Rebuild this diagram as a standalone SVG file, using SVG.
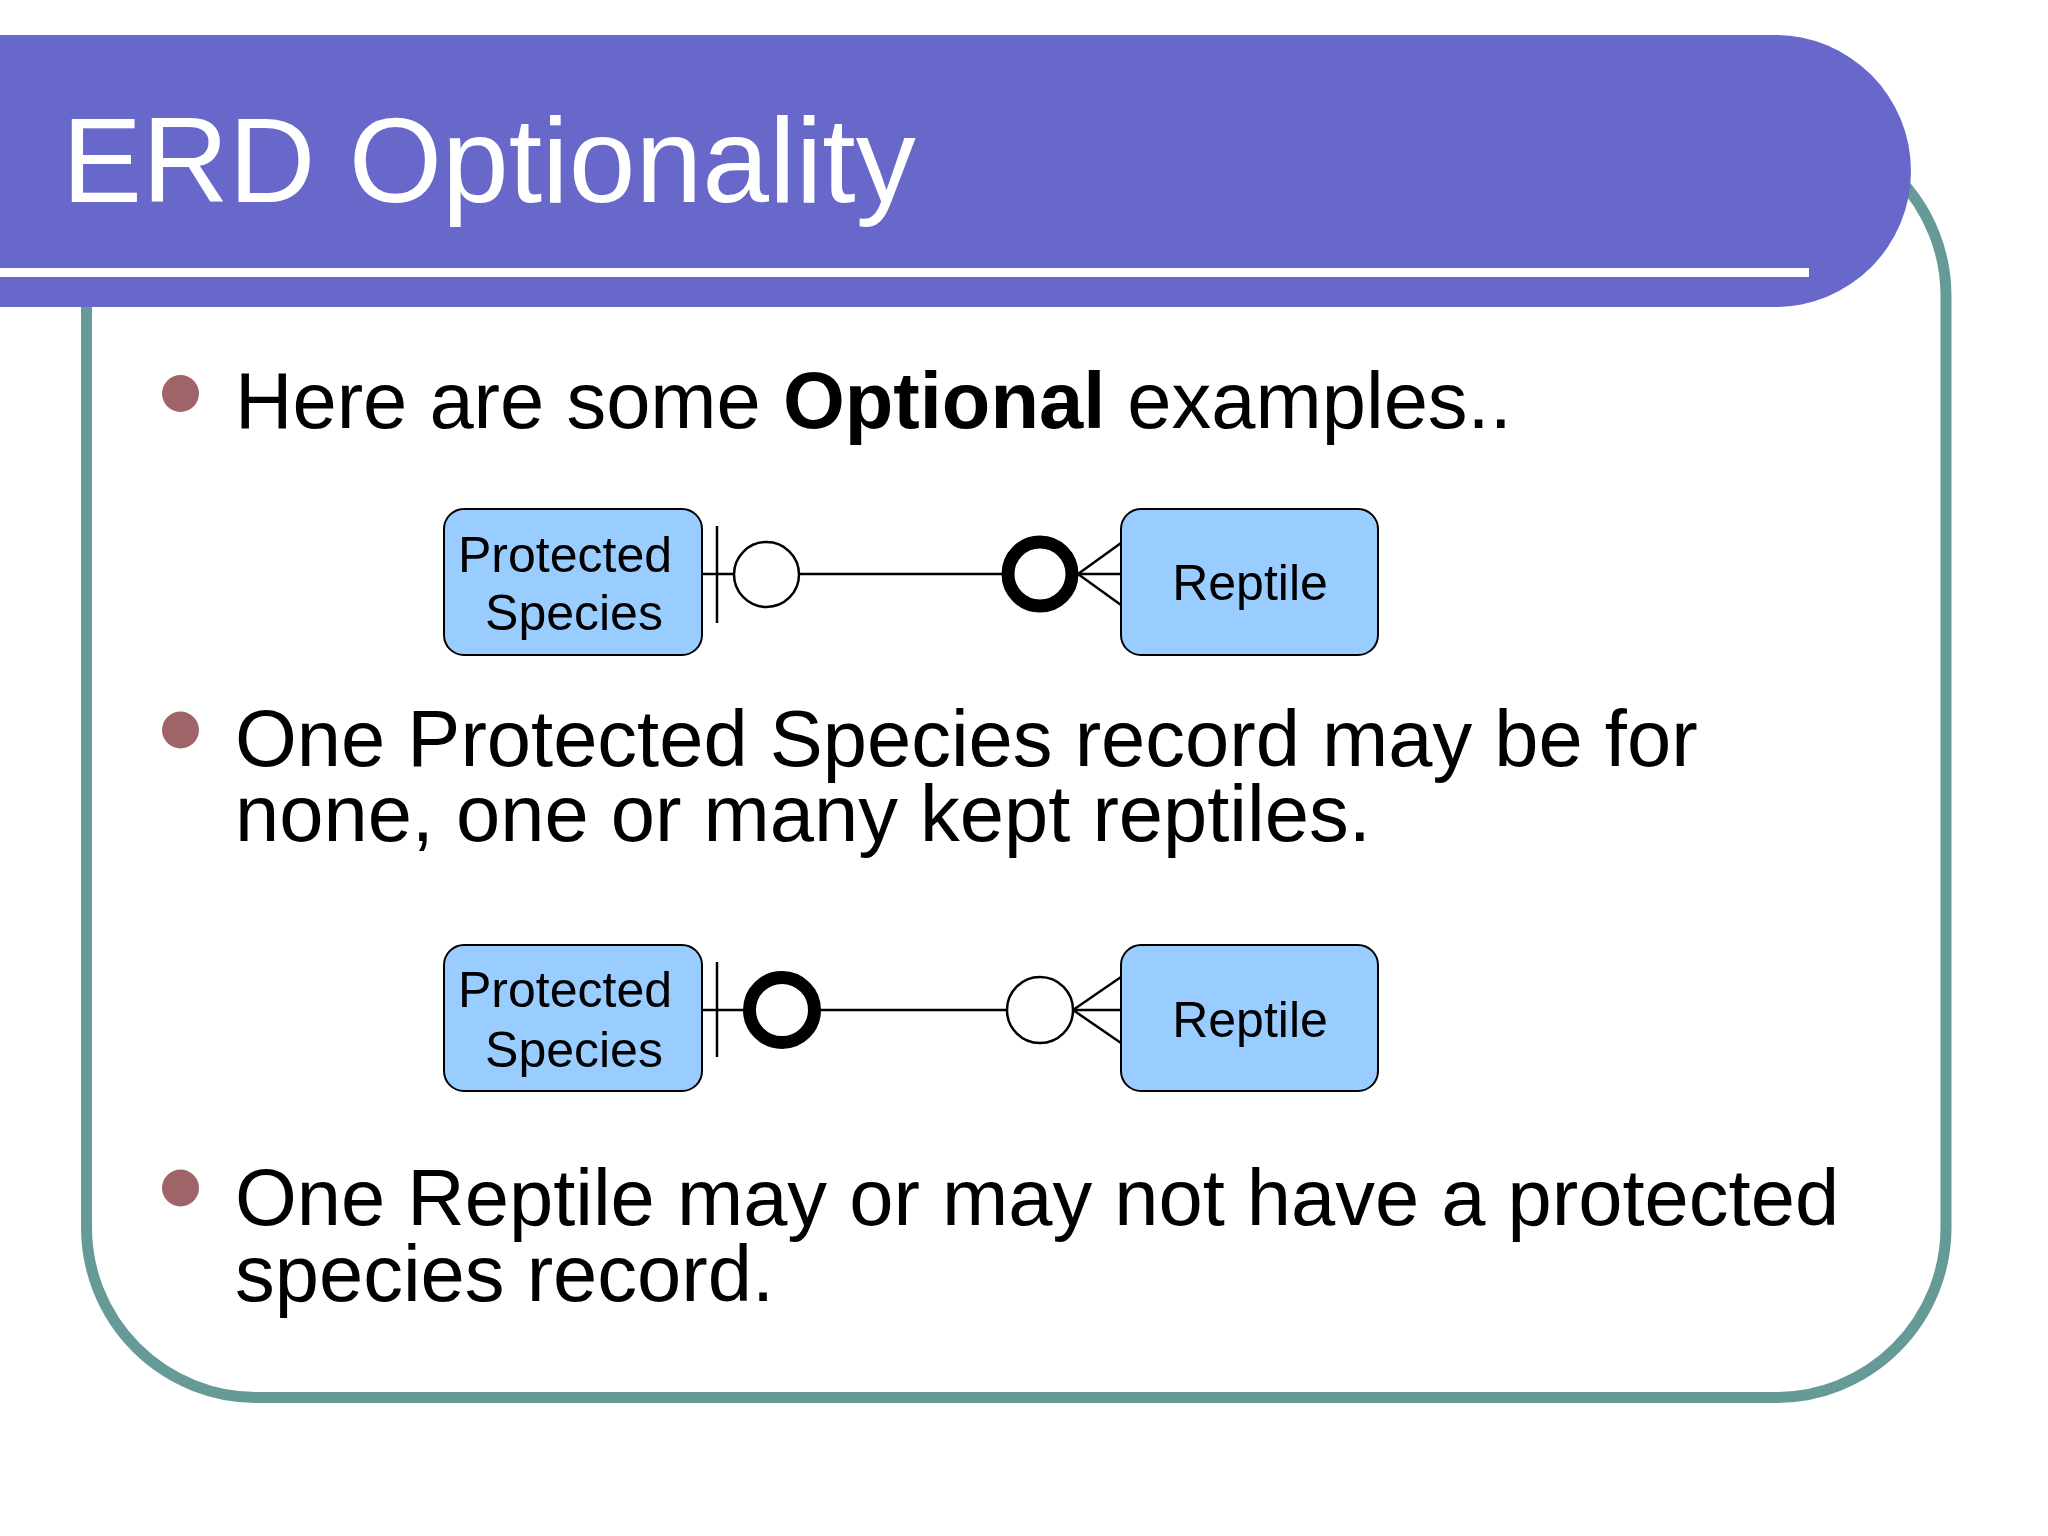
<svg xmlns="http://www.w3.org/2000/svg" width="2048" height="1536" viewBox="0 0 2048 1536">
<style>
.body{font-family:"Liberation Sans",Arial,sans-serif;font-size:79.5px;fill:#000}
.lbl{font-family:"Liberation Sans",Arial,sans-serif;font-size:50px;fill:#000;text-anchor:middle}
.ent{fill:#99ccff;stroke:#000;stroke-width:2}
.ln{stroke:#000;stroke-width:2.5;fill:none}
.open{fill:#fff;stroke:#000;stroke-width:2.5}
.bold{fill:#fff;stroke:#000;stroke-width:13}
.bul{fill:#9e6467}
</style>
<rect width="2048" height="1536" fill="#fff"/>
<g id="frame">
<rect x="86.5" y="126" width="1859.5" height="1271.5" rx="170" ry="170" fill="#fff" stroke="#669a97" stroke-width="11"/>
</g>
<g id="banner">
<path d="M0,35 H1775 A136,136 0 0 1 1775,307 H0 Z" fill="#6868ca"/>
<rect x="0" y="268" width="1809" height="9" fill="#fff"/>
<text x="62" y="202" font-family="'Liberation Sans',Arial,sans-serif" font-size="120" fill="#fff">ERD Optionality</text>
</g>
<g id="bullet1">
<circle class="bul" cx="180.5" cy="393.5" r="18.5"/>
<text class="body" x="235" y="428">Here are some <tspan font-weight="bold">Optional</tspan> examples..</text>
</g>
<g id="bullet2">
<circle class="bul" cx="180.5" cy="730" r="18.5"/>
<text class="body" x="235" y="766">One Protected Species record may be for</text>
<text class="body" x="235" y="841">none, one or many kept reptiles.</text>
</g>
<g id="bullet3">
<circle class="bul" cx="180.5" cy="1188" r="18.5"/>
<text class="body" x="235" y="1225">One Reptile may or may not have a protected</text>
<text class="body" x="235" y="1301">species record.</text>
</g>
<g id="connectors">
<g id="conn1">
<line class="ln" x1="702" y1="574" x2="1121" y2="574"/>
<line class="ln" x1="717" y1="526" x2="717" y2="623"/>
<circle class="open" cx="766.5" cy="574.5" r="32.5"/>
<circle class="bold" cx="1040" cy="574" r="32"/>
<line class="ln" x1="1078" y1="574" x2="1121" y2="543"/>
<line class="ln" x1="1078" y1="574" x2="1121" y2="605"/>
</g>
<g id="conn2">
<line class="ln" x1="702" y1="1010" x2="1121" y2="1010"/>
<line class="ln" x1="717" y1="962" x2="717" y2="1057"/>
<circle class="bold" cx="782" cy="1010" r="32.5"/>
<circle class="open" cx="1040" cy="1010" r="33"/>
<line class="ln" x1="1073" y1="1010" x2="1121" y2="977"/>
<line class="ln" x1="1073" y1="1010" x2="1121" y2="1043"/>
</g>
</g>
<g id="ps1">
<rect class="ent" x="444" y="509" width="258" height="146" rx="20" ry="20"/>
<text class="lbl" x="565" y="572">Protected</text>
<text class="lbl" x="574" y="630">Species</text>
</g>
<g id="rep1">
<rect class="ent" x="1121" y="509" width="257" height="146" rx="20" ry="20"/>
<text class="lbl" x="1250" y="600">Reptile</text>
</g>
<g id="ps2">
<rect class="ent" x="444" y="945" width="258" height="146" rx="20" ry="20"/>
<text class="lbl" x="565" y="1007">Protected</text>
<text class="lbl" x="574" y="1067">Species</text>
</g>
<g id="rep2">
<rect class="ent" x="1121" y="945" width="257" height="146" rx="20" ry="20"/>
<text class="lbl" x="1250" y="1037">Reptile</text>
</g>
</svg>
